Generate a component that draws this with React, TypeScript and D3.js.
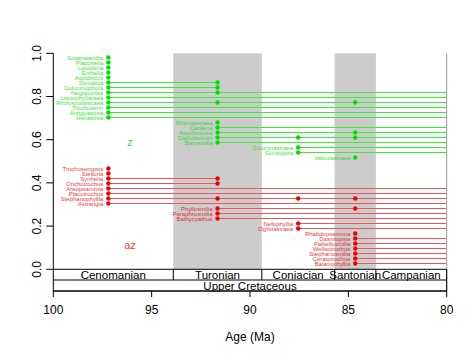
import React from "react";
import * as d3 from "d3";

const W = 474;
const H = 357;

const stageNames = ["Cenomanian", "Turonian", "Coniacian", "Santonian", "Campanian"];
const stageStart = [100.5, 93.9, 89.4, 85.7, 83.6];
const stageEnd = [93.9, 89.4, 85.7, 83.6, 72.1];
const shadedStages = ["Turonian", "Santonian"];
const eraName = "Upper Cretaceous";

const xTicks = [100, 95, 90, 85, 80];
const yTicks = [0, 0.2, 0.4, 0.6, 0.8, 1.0];

// taxa: name, clade, y position, stages of occurrence (index), ranges beyond plot
const taxonNames = [
  "Smameandra", "Placohelia", "Lasiolena", "Enthelia", "Aspidiscus", "Somalica",
  "Columnophora", "Negoporites", "Leptophyllaraea", "Rhizosmiliastraea", "Trochoserin",
  "Antiguastrea", "Heliastrea",
  "Rhipidastraea", "Cardena", "Aspidimorea", "Diploctenium", "Barysmilia",
  "Columnastraea", "Goniopora", "Valculastraea",
  "Trochoseropsis", "Stelloria", "Synhelia", "Onchotrochus", "Areopsammia", "Placotrochus",
  "Stephanophyllia", "Astrangia",
  "Phyllosmilia", "Paraphrosmilia", "Bathycyathus",
  "Nefophyllia", "Ogilviastraea",
  "Rhabdopsammia", "Dasmiopsis", "Flabellosmilia", "Wellsotrochus", "Stephanosmilia",
  "Ceratotrochus", "Balanophyllia",
];
const taxonClade = [
  "z", "z", "z", "z", "z", "z", "z", "z", "z", "z", "z", "z", "z",
  "z", "z", "z", "z", "z",
  "z", "z", "z",
  "az", "az", "az", "az", "az", "az", "az", "az",
  "az", "az", "az",
  "az", "az",
  "az", "az", "az", "az", "az", "az", "az",
];
const taxonY = [
  0.981, 0.958, 0.935, 0.912, 0.889, 0.866, 0.843, 0.819, 0.796, 0.773, 0.75, 0.727, 0.704,
  0.681, 0.657, 0.634, 0.611, 0.588,
  0.565, 0.542, 0.519,
  0.468, 0.444, 0.421, 0.398, 0.375, 0.352, 0.329, 0.306,
  0.282, 0.259, 0.236,
  0.213, 0.19,
  0.167, 0.144, 0.12, 0.097, 0.074, 0.051, 0.028,
];
const taxonStages: number[][] = [
  [0], [0], [0], [0], [0], [0, 1],
  [0, 1], [0, 1], [0], [0, 1, 3], [0],
  [0], [0],
  [1], [1], [1, 3], [1, 2, 3], [1],
  [2], [2], [3],
  [0], [0], [0, 1], [0, 1], [0], [0],
  [0, 1, 2, 3], [0],
  [1, 3], [1], [1],
  [2], [2],
  [3], [3], [3], [3], [3], [3], [3],
];
const taxonRangesThrough = [
  false, false, false, false, false, false,
  false, true, true, true, true,
  true, true,
  false, true, true, true, true,
  true, true, false,
  false, false, false, false, true, true,
  true, true,
  true, true, true,
  true, true,
  false, true, true, true, true, true, true,
];

const cladeLabels = ["z", "az"];
const cladeLabelY = [0.59, 0.11];
const cladeLabelAge = [96.1, 96.1];

const cladeColor: Record<string, string> = { z: "#00e000", az: "#ee0000" };
const cladeLine: Record<string, string> = { z: "#33ee33", az: "#ee5555" };

export default function App() {
  const x = d3.scaleLinear().domain([100, 80]).range([53.3, 446.7]);
  const y = d3.scaleLinear().domain([0, 1]).range([269.3, 53.3]);
  const mid = (i: number) => (stageStart[i] + stageEnd[i]) / 2;
  const clampX = (a: number) => x(Math.min(100, Math.max(80, a)));

  const stageTop = 269.3;
  const stageMid = 280;
  const stageBot = 291;
  const axisY = 291;
  const font = "Liberation Sans, Arial, sans-serif";

  return (
    <svg width={W} height={H} style={{ position: "absolute", left: 0, top: 0, background: "#fff" }} fontFamily={font}>
      {/* shaded stages */}
      {stageNames.map((s, i) =>
        shadedStages.includes(s) ? (
          <rect key={s} x={clampX(stageStart[i])} y={y(1)} width={clampX(stageEnd[i]) - clampX(stageStart[i])}
            height={stageTop - y(1)} fill="#cccccc" />
        ) : null
      )}
      {/* range lines */}
      {taxonNames.map((n, i) => {
        const st = taxonStages[i];
        const x0 = x(mid(st[0]));
        const x1 = taxonRangesThrough[i] ? x(80) : x(mid(st[st.length - 1]));
        if (x1 <= x0) return null;
        const yy = Math.round(y(taxonY[i])) + 0.5;
        return <line key={"l" + n} x1={x0} x2={x1} y1={yy} y2={yy} stroke={cladeLine[taxonClade[i]]} strokeWidth={1} />;
      })}
      {/* points */}
      {taxonNames.map((n, i) =>
        taxonStages[i].map((s) => (
          <circle key={"p" + n + s} cx={x(mid(s))} cy={Math.round(y(taxonY[i])) + 0.5} r={2.2} fill={cladeColor[taxonClade[i]]} />
        ))
      )}
      {/* labels */}
      {taxonNames.map((n, i) => (
        <text key={"t" + n} x={x(mid(taxonStages[i][0])) - 5} y={Math.round(y(taxonY[i])) + 0.5} dy="0.35em"
          textAnchor="end" fontSize={6} fill={cladeColor[taxonClade[i]]} opacity={0.8}>
          {n}
        </text>
      ))}
      {/* clade labels */}
      {cladeLabels.map((c, i) => (
        <text key={"c" + c} x={x(cladeLabelAge[i])} y={y(cladeLabelY[i])} dy="0.35em" textAnchor="middle"
          fontSize={11} fill={cladeColor[c]} opacity={0.8}>
          {c}
        </text>
      ))}
      {/* right edge */}
      <line x1={x(80)} x2={x(80)} y1={y(1)} y2={stageBot} stroke="#999" strokeWidth={1} />
      {/* stage boxes */}
      <g stroke="#000" strokeWidth={1} fill="none">
        <line x1={x(100)} x2={x(80)} y1={stageTop} y2={stageTop} />
        <line x1={x(100)} x2={x(80)} y1={stageMid} y2={stageMid} />
        <line x1={x(100)} x2={x(80)} y1={stageBot} y2={stageBot} />
        <line x1={x(100)} x2={x(100)} y1={stageTop} y2={stageBot} />
        <line x1={x(80)} x2={x(80)} y1={stageTop} y2={stageBot} />
        {stageStart.map((s, i) =>
          s < 100 && s > 80 ? <line key={"sb" + i} x1={x(s)} x2={x(s)} y1={stageTop} y2={stageMid} /> : null
        )}
      </g>
      {stageNames.map((s, i) => (
        <text key={"sn" + s} x={(clampX(stageStart[i]) + clampX(stageEnd[i])) / 2} y={(stageTop + stageMid) / 2}
          dy="0.36em" textAnchor="middle" fontSize={11.5} fill="#000">
          {s}
        </text>
      ))}
      <text x={(x(100) + x(80)) / 2} y={(stageMid + stageBot) / 2} dy="0.36em" textAnchor="middle" fontSize={11.5}>
        {eraName}
      </text>
      {/* x axis */}
      <g>
        <line x1={x(100)} x2={x(80)} y1={axisY} y2={axisY} stroke="#000" />
        {xTicks.map((t) => (
          <g key={"xt" + t}>
            <line x1={x(t)} x2={x(t)} y1={axisY} y2={axisY + 6} stroke="#000" />
            <text x={x(t)} y={axisY + 19} dy="0.35em" textAnchor="middle" fontSize={12}>{t}</text>
          </g>
        ))}
        <text x={(x(100) + x(80)) / 2} y={336.5} dy="0.35em" textAnchor="middle" fontSize={12}>Age (Ma)</text>
      </g>
      {/* y axis */}
      <g>
        <line x1={x(100)} x2={x(100)} y1={y(0)} y2={y(1)} stroke="#000" />
        {yTicks.map((t) => (
          <g key={"yt" + t}>
            <line x1={x(100) - 7} x2={x(100)} y1={y(t)} y2={y(t)} stroke="#000" />
            <text transform={`translate(${36.7},${y(t)}) rotate(-90)`} dy="0.35em" textAnchor="middle" fontSize={12}>
              {t.toFixed(1)}
            </text>
          </g>
        ))}
      </g>
    </svg>
  );
}
